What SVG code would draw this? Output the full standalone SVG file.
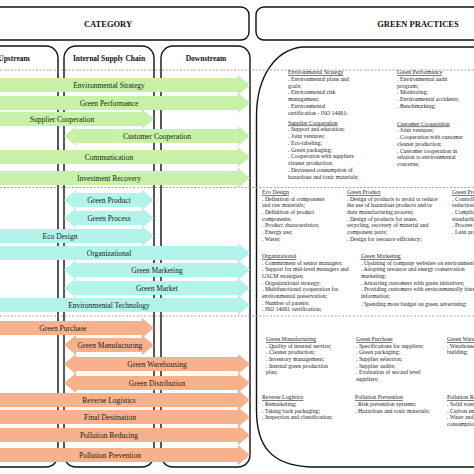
<svg xmlns="http://www.w3.org/2000/svg" width="474" height="474" viewBox="0 0 474 474">
<defs>
<style>
.box{fill:none;stroke:#111;stroke-width:1.4}
.dash{stroke:#8a8a8a;stroke-width:0.8;stroke-dasharray:2 1.6;fill:none}
.hdr{font-family:"Liberation Serif",serif;font-weight:bold;font-size:8.5px;fill:#111;text-anchor:middle}
.sub{font-family:"Liberation Serif",serif;font-weight:bold;font-size:7.5px;fill:#111;text-anchor:middle}
.g{fill:#c8f1a8}
.c{fill:#b2f3ea}
.o{fill:#f8b18d}
.al{font-family:"Liberation Serif",serif;font-size:7.5px;fill:#141c14;text-anchor:middle}
.p{font-family:"Liberation Serif",serif;font-size:5.8px;fill:#1e1e1e}
.t{text-decoration:underline}
</style>
</defs>
<rect width="474" height="474" fill="#ffffff"/>

<g id="category"><rect class="box" x="-10" y="7" width="259" height="33" rx="8"/><text class="hdr" x="108" y="27">CATEGORY</text></g>
<g id="green-practices"><rect class="box" x="256" y="7" width="240" height="33" rx="8"/><text class="hdr" x="418" y="27">GREEN PRACTICES</text></g>

<g id="upstream"><rect class="box" x="-30" y="46" width="88" height="421" rx="12"/><text class="sub" x="14" y="61">Upstream</text></g>
<g id="internal"><rect class="box" x="64" y="46" width="90" height="421" rx="12"/><text class="sub" x="109" y="61">Internal Supply Chain</text></g>
<g id="downstream"><rect class="box" x="161" y="46" width="89" height="421" rx="12"/><text class="sub" x="206" y="61">Downstream</text></g>

<g id="practices-panel"><path class="box" d="M480,47 L302,47 C276,50 257,75 256.5,115 L256.5,410 C256.5,445 270,465 310,467 L480,467"/></g>

<g id="dividers">
<line class="dash" x1="0" y1="70" x2="474" y2="70"/>
<line class="dash" x1="0" y1="187.5" x2="474" y2="187.5"/>
<line class="dash" x1="0" y1="316" x2="474" y2="316"/>
</g>

<g id="connectors">
<path class="g" d="M-2,78 H238 V75 L250,85 L238,95 V92 H-2 Z"/>
<path class="g" d="M-2,96 H238 V93 L250,103 L238,113 V110 H-2 Z"/>
<path class="g" d="M-2,112 H142 V109 L154,119 L142,129 V126 H-2 Z"/>
<path class="g" d="M76,129 H238 V126 L250,136 L238,146 V143 H76 V146 L64,136 L76,126 Z"/>
<path class="g" d="M-2,150 H238 V147 L250,157 L238,167 V164 H-2 Z"/>
<path class="g" d="M-2,171 H238 V168 L250,178 L238,188 V185 H-2 Z"/>
<path class="c" d="M76,193 H142 V190 L154,200 L142,210 V207 H76 V210 L64,200 L76,190 Z"/>
<path class="c" d="M76,211 H142 V208 L154,218 L142,228 V225 H76 V228 L64,218 L76,208 Z"/>
<path class="c" d="M-2,229 H142 V226 L154,236 L142,246 V243 H-2 Z"/>
<path class="c" d="M-2,246 H238 V243 L250,253 L238,263 V260 H-2 Z"/>
<path class="c" d="M76,263 H238 V260 L250,270 L238,280 V277 H76 V280 L64,270 L76,260 Z"/>
<path class="c" d="M76,281 H238 V278 L250,288 L238,298 V295 H76 V298 L64,288 L76,278 Z"/>
<path class="c" d="M-2,298 H238 V295 L250,305 L238,315 V312 H-2 Z"/>
<path class="o" d="M-2,321 H142 V318 L154,328 L142,338 V335 H-2 Z"/>
<path class="o" d="M76,338 H142 V335 L154,345 L142,355 V352 H76 V355 L64,345 L76,335 Z"/>
<path class="o" d="M76,357 H238 V354 L250,364 L238,374 V371 H76 V374 L64,364 L76,354 Z"/>
<path class="o" d="M76,376 H238 V373 L250,383 L238,393 V390 H76 V393 L64,383 L76,373 Z"/>
<path class="o" d="M-2,393 H238 V390 L250,400 L238,410 V407 H-2 Z"/>
<path class="o" d="M-2,410 H238 V407 L250,417 L238,427 V424 H-2 Z"/>
<path class="o" d="M-2,428 H238 V425 L250,435 L238,445 V442 H-2 Z"/>
<path class="o" d="M-2,448 H238 V445 L250,455 L238,465 V462 H-2 Z"/>
</g>

<g id="arrow-labels">
<text class="al" x="109" y="87.5">Environmental Strategy</text>
<text class="al" x="109" y="105.5">Green Performance</text>
<text class="al" x="62" y="121.5">Supplier Cooperation</text>
<text class="al" x="157" y="138.5">Customer Cooperation</text>
<text class="al" x="109" y="159.5">Communication</text>
<text class="al" x="109" y="180.5">Investment Recovery</text>
<text class="al" x="109" y="202.5">Green Product</text>
<text class="al" x="109" y="220.5">Green Process</text>
<text class="al" x="60" y="238.5">Eco Design</text>
<text class="al" x="109" y="255.5">Organizational</text>
<text class="al" x="157" y="272.5">Green Marketing</text>
<text class="al" x="157" y="290.5">Green Market</text>
<text class="al" x="109" y="307.5">Environmental Technology</text>
<text class="al" x="63" y="330.5">Green Purchase</text>
<text class="al" x="110" y="347.5">Green Manufacturing</text>
<text class="al" x="157" y="366.5">Green Warehousing</text>
<text class="al" x="157" y="385.5">Green Distribution</text>
<text class="al" x="109" y="402.5">Reverse Logistics</text>
<text class="al" x="110" y="419.5">Final Destination</text>
<text class="al" x="109" y="437.5">Pollution Reducing</text>
<text class="al" x="110" y="457.5">Pollution Prevention</text>
</g>

<g id="practice-texts">
<text class="p" x="288"><tspan class="t" x="288" y="74">Environmental  Strategy</tspan><tspan x="288" y="80.8">. Environmental  plans  and</tspan><tspan x="288" y="87.5">goals;</tspan><tspan x="288" y="94.3">. Environmental  risk</tspan><tspan x="288" y="101">management;</tspan><tspan x="288" y="107.8">. Environmental</tspan><tspan x="288" y="114.5">certification  - ISO 14001;</tspan></text>
<text class="p" x="288"><tspan class="t" x="288" y="124.5">Supplier Cooperation</tspan><tspan x="288" y="131.3">. Support and education;</tspan><tspan x="288" y="138">. Joint ventures;</tspan><tspan x="288" y="144.8">. Eco-labeling;</tspan><tspan x="288" y="151.5">. Green packaging;</tspan><tspan x="288" y="158.3">. Cooperation  with suppliers</tspan><tspan x="288" y="165">cleaner production;</tspan><tspan x="288" y="171.8">. Decreased consumption of</tspan><tspan x="288" y="178.5">hazardous and toxic materials;</tspan></text>
<text class="p" x="397"><tspan class="t" x="397" y="74">Green Performance</tspan><tspan x="397" y="80.8">. Environmental  audit</tspan><tspan x="397" y="87.5">program;</tspan><tspan x="397" y="94.3">. Monitoring;</tspan><tspan x="397" y="101">. Environmental  accidents;</tspan><tspan x="397" y="107.8">. Benchmarking;</tspan></text>
<text class="p" x="397"><tspan class="t" x="397" y="125.5">Customer Cooperation</tspan><tspan x="397" y="132.3">. Joint ventures;</tspan><tspan x="397" y="139">. Cooperation  with customer</tspan><tspan x="397" y="145.8">cleaner production;</tspan><tspan x="397" y="152.5">. Customer cooperation  in</tspan><tspan x="397" y="159.3">relation to environmental</tspan><tspan x="397" y="166">concerns;</tspan></text>

<text class="p" x="262"><tspan class="t" x="262" y="194">Eco Design</tspan><tspan x="262" y="200.7">. Definition  of components</tspan><tspan x="262" y="207.3">and raw materials;</tspan><tspan x="262" y="214">. Definition  of product</tspan><tspan x="262" y="220.7">components;</tspan><tspan x="262" y="227.3">. Product characteristics;</tspan><tspan x="262" y="234">. Energy use;</tspan><tspan x="262" y="240.7">. Waste;</tspan></text>
<text class="p" x="347"><tspan class="t" x="347" y="194">Green Product</tspan><tspan x="347" y="200.7">. Design of products to avoid or reduce</tspan><tspan x="347" y="207.3">the use of hazardous products and/or</tspan><tspan x="347" y="214">their manufacturing process;</tspan><tspan x="347" y="220.7">. Design of products for reuse,</tspan><tspan x="347" y="227.3">recycling,  recovery of material and</tspan><tspan x="347" y="234">component parts;</tspan><tspan x="347" y="240.7">. Design for resource efficiency;</tspan></text>
<text class="p" x="452"><tspan class="t" x="452" y="194">Green Process</tspan><tspan x="452" y="200.7">. Controlled emission</tspan><tspan x="452" y="207.3">reduction;</tspan><tspan x="452" y="214">. Compliance with</tspan><tspan x="452" y="220.7">standardization;</tspan><tspan x="452" y="227.3">. Process optimization;</tspan><tspan x="452" y="234">. Lean production;</tspan></text>

<text class="p" x="262"><tspan class="t" x="262" y="258">Organizational</tspan><tspan x="262" y="264.7">. Commitment  of senior managers;</tspan><tspan x="262" y="271.3">. Support for mid-level  managers and</tspan><tspan x="262" y="278">GSCM strategies;</tspan><tspan x="262" y="284.7">. Organizational  strategy;</tspan><tspan x="262" y="291.3">. Multifunctional  cooperation  for</tspan><tspan x="262" y="298">environmental  preservation;</tspan><tspan x="262" y="304.7">. Number of patents;</tspan><tspan x="262" y="311.3">. ISO 14001 certification;</tspan></text>
<text class="p" x="361"><tspan class="t" x="361" y="258">Green Marketing</tspan><tspan x="361" y="264.7">. Updating of company websites on environmental</tspan><tspan x="361" y="271.3">. Adopting resource and energy conservation</tspan><tspan x="361" y="278">marketing;</tspan><tspan x="361" y="284.7">. Attracting  customers with green initiatives;</tspan><tspan x="361" y="291.3">. Providing customers with environmentally  friendly</tspan><tspan x="361" y="298">information;</tspan><tspan x="361" y="305.5">. Spending more budget on green advertising;</tspan></text>

<text class="p" x="266"><tspan class="t" x="266" y="341">Green Manufacturing</tspan><tspan x="266" y="347.7">. Quality of internal  service;</tspan><tspan x="266" y="354.3">. Cleaner production;</tspan><tspan x="266" y="361">. Inventory  management;</tspan><tspan x="266" y="367.7">. Internal  green  production</tspan><tspan x="266" y="374.3">plan;</tspan></text>
<text class="p" x="356"><tspan class="t" x="356" y="341">Green Purchase</tspan><tspan x="356" y="347.7">. Specifications  for suppliers;</tspan><tspan x="356" y="354.3">. Green packaging;</tspan><tspan x="356" y="361">. Supplier selection;</tspan><tspan x="356" y="367.7">. Supplier audits;</tspan><tspan x="356" y="374.3">. Evaluation  of second level</tspan><tspan x="356" y="381">suppliers;</tspan></text>
<text class="p" x="447"><tspan class="t" x="447" y="341">Green Warehousing</tspan><tspan x="447" y="347.7">. Warehouse green</tspan><tspan x="447" y="354.3">building;</tspan></text>

<text class="p" x="262"><tspan class="t" x="262" y="399.3">Reverse Logistics</tspan><tspan x="262" y="406">. Remarketing;</tspan><tspan x="262" y="412.7">. Taking back  packaging;</tspan><tspan x="262" y="419.3">. Inspection and classification;</tspan></text>
<text class="p" x="355"><tspan class="t" x="355" y="399.3">Pollution Prevention</tspan><tspan x="355" y="406">. Risk  prevention  systems;</tspan><tspan x="355" y="412.7">. Hazardous and toxic materials;</tspan></text>
<text class="p" x="447"><tspan class="t" x="447" y="399.3">Pollution Reducing</tspan><tspan x="447" y="406">. Solid waste;</tspan><tspan x="447" y="412.7">. Carbon emission;</tspan><tspan x="447" y="419.3">. Water and energy</tspan><tspan x="447" y="426">consumption;</tspan></text>
</g>
</svg>
